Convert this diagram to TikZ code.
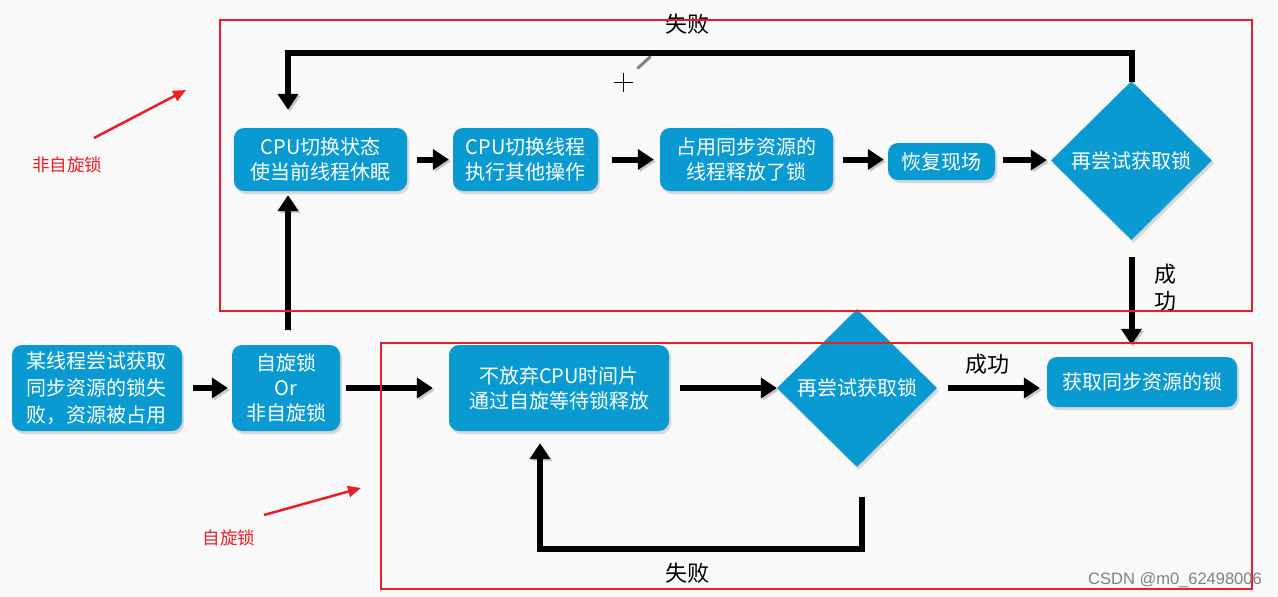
\documentclass[tikz,border=0pt]{standalone}
\usepackage{fontspec}
\setmainfont{Noto Sans CJK SC}
\newfontfamily\wmfont{Liberation Sans}
\usetikzlibrary{arrows.meta,shapes.geometric,shadows,calc}
\definecolor{boxblue}{RGB}{8,154,208}
\definecolor{redline}{RGB}{232,30,40}
\definecolor{bg}{RGB}{249,249,249}
\tikzset{
  shd/.style={drop shadow={opacity=0.28, shadow xshift=2pt, shadow yshift=-3pt}},
  box/.style={fill=boxblue, rounded corners=10pt, text=white, align=center, inner sep=0pt, shd,
    font=\fontsize{20}{25}\selectfont},
  dia/.style={diamond, fill=boxblue, text=white, align=center, inner sep=0pt, shd,
    font=\fontsize{20}{25}\selectfont},
  arr/.style={line width=6pt, -{Triangle[length=16pt,width=20pt]},
    preaction={draw=black!22, transform canvas={xshift=2pt,yshift=-2pt}}},
  lab/.style={font=\fontsize{22}{27}\selectfont, text=black, align=center},
  note/.style={text=redline, font=\fontsize{17.5}{20}\selectfont},
  redarr/.style={draw=redline, line width=2.5pt, -{Triangle[length=13pt,width=11pt]}},
  frame/.style={draw=redline, line width=2pt},
}
\begin{document}
\begin{tikzpicture}[x=1pt,y=-1pt]
\useasboundingbox (0,0) rectangle (1278,597);
\fill[bg] (0,0) rectangle (1278,597);

% nodes
\node[box, minimum width=170, minimum height=86, font=\fontsize{20}{27}\selectfont] (A) at (97,388) {某线程尝试获取\\同步资源的锁失\\败，资源被占用};
\node[box, minimum width=108, minimum height=86] (B) at (286,388) {自旋锁\\Or\\非自旋锁};
\node[box, minimum width=173, minimum height=63] (C) at (320.5,159.5) {CPU切换状态\\使当前线程休眠};
\node[box, minimum width=145, minimum height=63] (D) at (525.5,159.5) {CPU切换线程\\执行其他操作};
\node[box, minimum width=173, minimum height=63] (E) at (746.5,159.5) {占用同步资源的\\线程释放了锁};
\node[box, minimum width=107, minimum height=37] (F) at (941.5,161.5) {恢复现场};
\node[dia, minimum width=161, minimum height=159] (G) at (1131.5,160.5) {再尝试获取锁};
\node[box, minimum width=220, minimum height=86] (H) at (559,388) {不放弃CPU时间片\\通过自旋等待锁释放};
\node[dia, minimum width=160, minimum height=158] (I) at (857,388) {再尝试获取锁};
\node[box, minimum width=190, minimum height=50] (J) at (1142,382) {获取同步资源的锁};

% helper coordinates
\coordinate (c1) at ($(B.north)+(2,0)$);
\coordinate (topY) at (0,53);
\coordinate (i1) at ($(I.south)+(5,30)$);
\coordinate (botY) at (0,549);
\coordinate (h1) at ($(H.south)+(-19,0)$);
\coordinate (rowY) at (0,160);

% connectors
\draw[arr, shorten <=11pt, shorten >=4pt] (A.east) -- (B.west);
\draw[arr, shorten <=6pt, shorten >=16pt] (B.east) -- (H.west);
\draw[arr, shorten <=15pt, shorten >=4pt] (c1) -- (c1 |- C.south);
\draw[arr, shorten <=10pt, shorten >=4pt] (C.east) -- (D.west);
\draw[arr, shorten <=14pt, shorten >=6pt] (D.east) -- (E.west);
\draw[arr, shorten <=10pt, shorten >=4pt] (E.east) -- (E.east -| F.west);
\draw[arr, shorten <=8pt, shorten >=4pt] (F.east |- rowY) -- (G.west |- rowY);
\draw[arr, shorten >=18pt] ($(G.north)+(0,1)$) |- (c1 |- topY) -- (c1 |- C.north);
\draw[arr, shorten <=17pt, shorten >=12pt] (G.south) -- (G.south |- J.north);
\draw[arr, shorten <=11pt, shorten >=0pt] (H.east) -- (I.west);
\draw[arr, shorten <=11pt, shorten >=7pt] (I.east) -- (I.east -| J.west);
\draw[arr, shorten >=12pt] (i1) |- (h1 |- botY) -- (h1);

% labels
\node[lab] (fail1) at (687,24) {失败};
\node[lab] (fail2) at (687,573) {失败};
\node[lab] (succ1) at (1165,288) {成\\功};
\node[lab] (succ2) at (987,364) {成功};

% red annotations
\node[note] (n1) at (67,165) {非自旋锁};
\node[note] (n2) at (229,538) {自旋锁};
\coordinate (r1a) at (94,138); \coordinate (r1b) at (186,90);
\coordinate (r2a) at (264,515); \coordinate (r2b) at (361,488);
\draw[redarr] (r1a) -- (r1b);
\draw[redarr] (r2a) -- (r2b);

% cursor and brush
\draw[black, line width=1pt] (614,82) -- (633,82) (623,73) -- (623,92);
\draw[black!50, line width=3pt, line cap=round] (638,68) -- (650,57);

% red frames
\draw[frame] (220,20) rectangle (1252,311);
\draw[frame] (381,343) rectangle (1252,589);

% watermark
\node[text=black!50, font=\wmfont\fontsize{16.5}{18}\selectfont] (wm) at (1175,580) {CSDN @m0\_62498006};
\end{tikzpicture}
\end{document}
